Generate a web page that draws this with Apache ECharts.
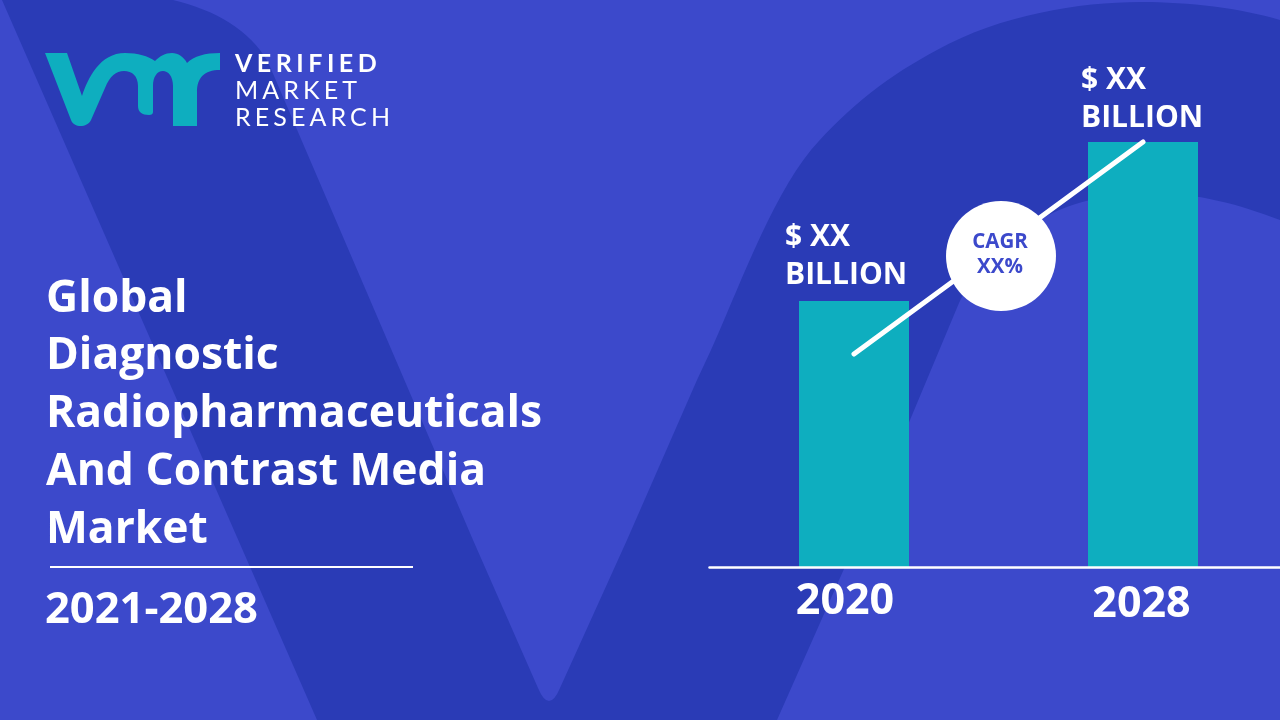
<!DOCTYPE html>
<html lang="en">
<head>
  <meta charset="UTF-8">
  <title>Diagnostic Radiopharmaceuticals And Contrast Media Market</title>
  <style>
    html, body { margin: 0; padding: 0; background: #3c49cb; overflow: hidden; }
    #chart { width: 1280px; height: 720px; }
    .logo_text { position: absolute; left: 235px; top: 49px; color: #fff; font-family: Lato, sans-serif; font-size: 25px; line-height: 27px; letter-spacing: 4.1px; }
    .logo_text b { font-weight: 700; letter-spacing: 4.5px; }
  </style>
  <script src="https://cdn.jsdelivr.net/npm/echarts@6/dist/echarts.min.js"></script>
</head>
<body>
  <div id="chart"></div>
  <div class="logo_text"><b>VERIFIED</b><br/>MARKET<br/>RESEARCH</div>
<script type="text/javascript">
  var years = ['2020', '2028'];
  var barValues = [2.66, 4.25];
  var lineValues = [2.13, 4.25];
  var valueLabels = ['$ XX\nBILLION', '$ XX\nBILLION'];
  var titleLines = ['Global', 'Diagnostic', 'Radiopharmaceuticals', 'And Contrast Media', 'Market'];
  var periodLabel = '2021-2028';
  var cagrLines = ['CAGR', 'XX%'];

  var LIGHT = '#3c49cb';
  var DARK = '#2a3bb6';
  var TEAL = '#0eaebf';
  var FONT = '"Open Sans", "Noto Sans", sans-serif';

  // background V shapes and the logo mark
  var backdrop = [
    { d: 'M2,0 L173,0 C215,10 250,30 268,62 L473,540 L538,688 Q549,714 560,688 L627,540 L697,380 L711,350 C735,298 770,200 811,150 C850,105 890,75 937,50 C1000,15 1080,2 1140,2 C1190,2 1240,8 1280,20 L1280,720 L317,720 Z', style: { fill: DARK } },
    { d: 'M777,720 L910,420 L959,303 C990,245 1050,193 1150,193 C1200,193 1240,205 1280,220 L1280,720 Z', style: { fill: LIGHT } },
    { d: 'M45,53 L67,53 L82,96 C88,78 100,53 125,53 C138,53 148,56 155,61 C160,56 165,53 172,53 C178,53 184,57 187,63 C194,56 205,53 220,53 L220,70 C204,70 197,78 197,92 L197,126 L173,126 L173,86 C173,76 168,71 163,71 C157,71 153,77 153,86 L153,112 Q153,115 149,115 C142,115 138,112 138,106 L138,86 C138,76 132,71 124,71 C116,71 110,76 105,88 L91,120 C87,128 74,128 71,120 Z', style: { fill: TEAL } }
  ];

  var myChart = echarts.init(document.getElementById('chart'), null, { width: 1280, height: 720 });

  var option = {
    backgroundColor: LIGHT,
    animation: false,
    title: [
      {
        text: titleLines.join('\n'),
        left: 41, top: 265,
        textStyle: { color: '#fff', fontFamily: FONT, fontWeight: 700, fontSize: 44.4, lineHeight: 57.8 }
      },
      {
        text: periodLabel,
        left: 40, top: 578,
        textStyle: { color: '#fff', fontFamily: FONT, fontWeight: 700, fontSize: 43.5, lineHeight: 56 }
      }
    ],
    grid: { left: 709.5, width: 578, top: 0, bottom: 153, outerBoundsMode: 'none' },
    xAxis: {
      type: 'category',
      data: years,
      z: 5,
      axisLine: { lineStyle: { color: '#fff', width: 2.5 } },
      axisTick: { show: false },
      axisLabel: {
        margin: 13,
        interval: 0,
        formatter: function (v) { return v === '2020' ? '{a|' + v + '}' : '{b|' + v + '}'; },
        rich: {
          a: { color: '#fff', fontFamily: FONT, fontWeight: 700, fontSize: 43, lineHeight: 44, padding: [0, 18, 0, 0] },
          b: { color: '#fff', fontFamily: FONT, fontWeight: 700, fontSize: 43, lineHeight: 44, padding: [6, 3, 0, 0] }
        }
      }
    },
    yAxis: { type: 'value', min: 0, max: 5.67, show: false },
    series: [
      {
        type: 'custom',
        coordinateSystem: 'none',
        silent: true,
        z: 1,
        data: [0],
        renderItem: function () {
          return {
            type: 'group',
            children: backdrop.map(function (b) {
              return { type: 'path', shape: { pathData: b.d }, style: b.style };
            })
          };
        }
      },
      {
        type: 'bar',
        barWidth: 110,
        itemStyle: { color: TEAL },
        z: 3,
        data: barValues.map(function (v, i) {
          return {
            value: v,
            label: {
              show: true,
              formatter: valueLabels[i],
              position: i === 0 ? [-14, -83] : [-7, -81],
              align: 'left',
              verticalAlign: 'top',
              color: '#fff',
              fontFamily: FONT,
              fontWeight: 700,
              fontSize: 30,
              lineHeight: 38
            }
          };
        })
      },
      {
        type: 'line',
        data: lineValues,
        symbol: 'none',
        z: 4,
        lineStyle: { color: '#fff', width: 5, cap: 'round' }
      }
    ],
    graphic: [
      // rule under the title
      {
        type: 'rect', z: 10, silent: true,
        shape: { x: 50, y: 566, width: 363, height: 2 },
        style: { fill: '#fff' }
      },
      // CAGR badge
      {
        type: 'circle', z: 20, silent: true,
        shape: { cx: 1001, cy: 256, r: 55 },
        style: { fill: '#fff' }
      },
      {
        type: 'text', z: 21, silent: true,
        x: 1000, y: 255,
        style: {
          text: cagrLines.join('\n'),
          fill: LIGHT,
          font: '700 20.5px "Open Sans", "Noto Sans", sans-serif',
          lineHeight: 25,
          align: 'center',
          verticalAlign: 'middle'
        }
      }
    ]
  };

  myChart.setOption(option);
</script>
</body>
</html>
